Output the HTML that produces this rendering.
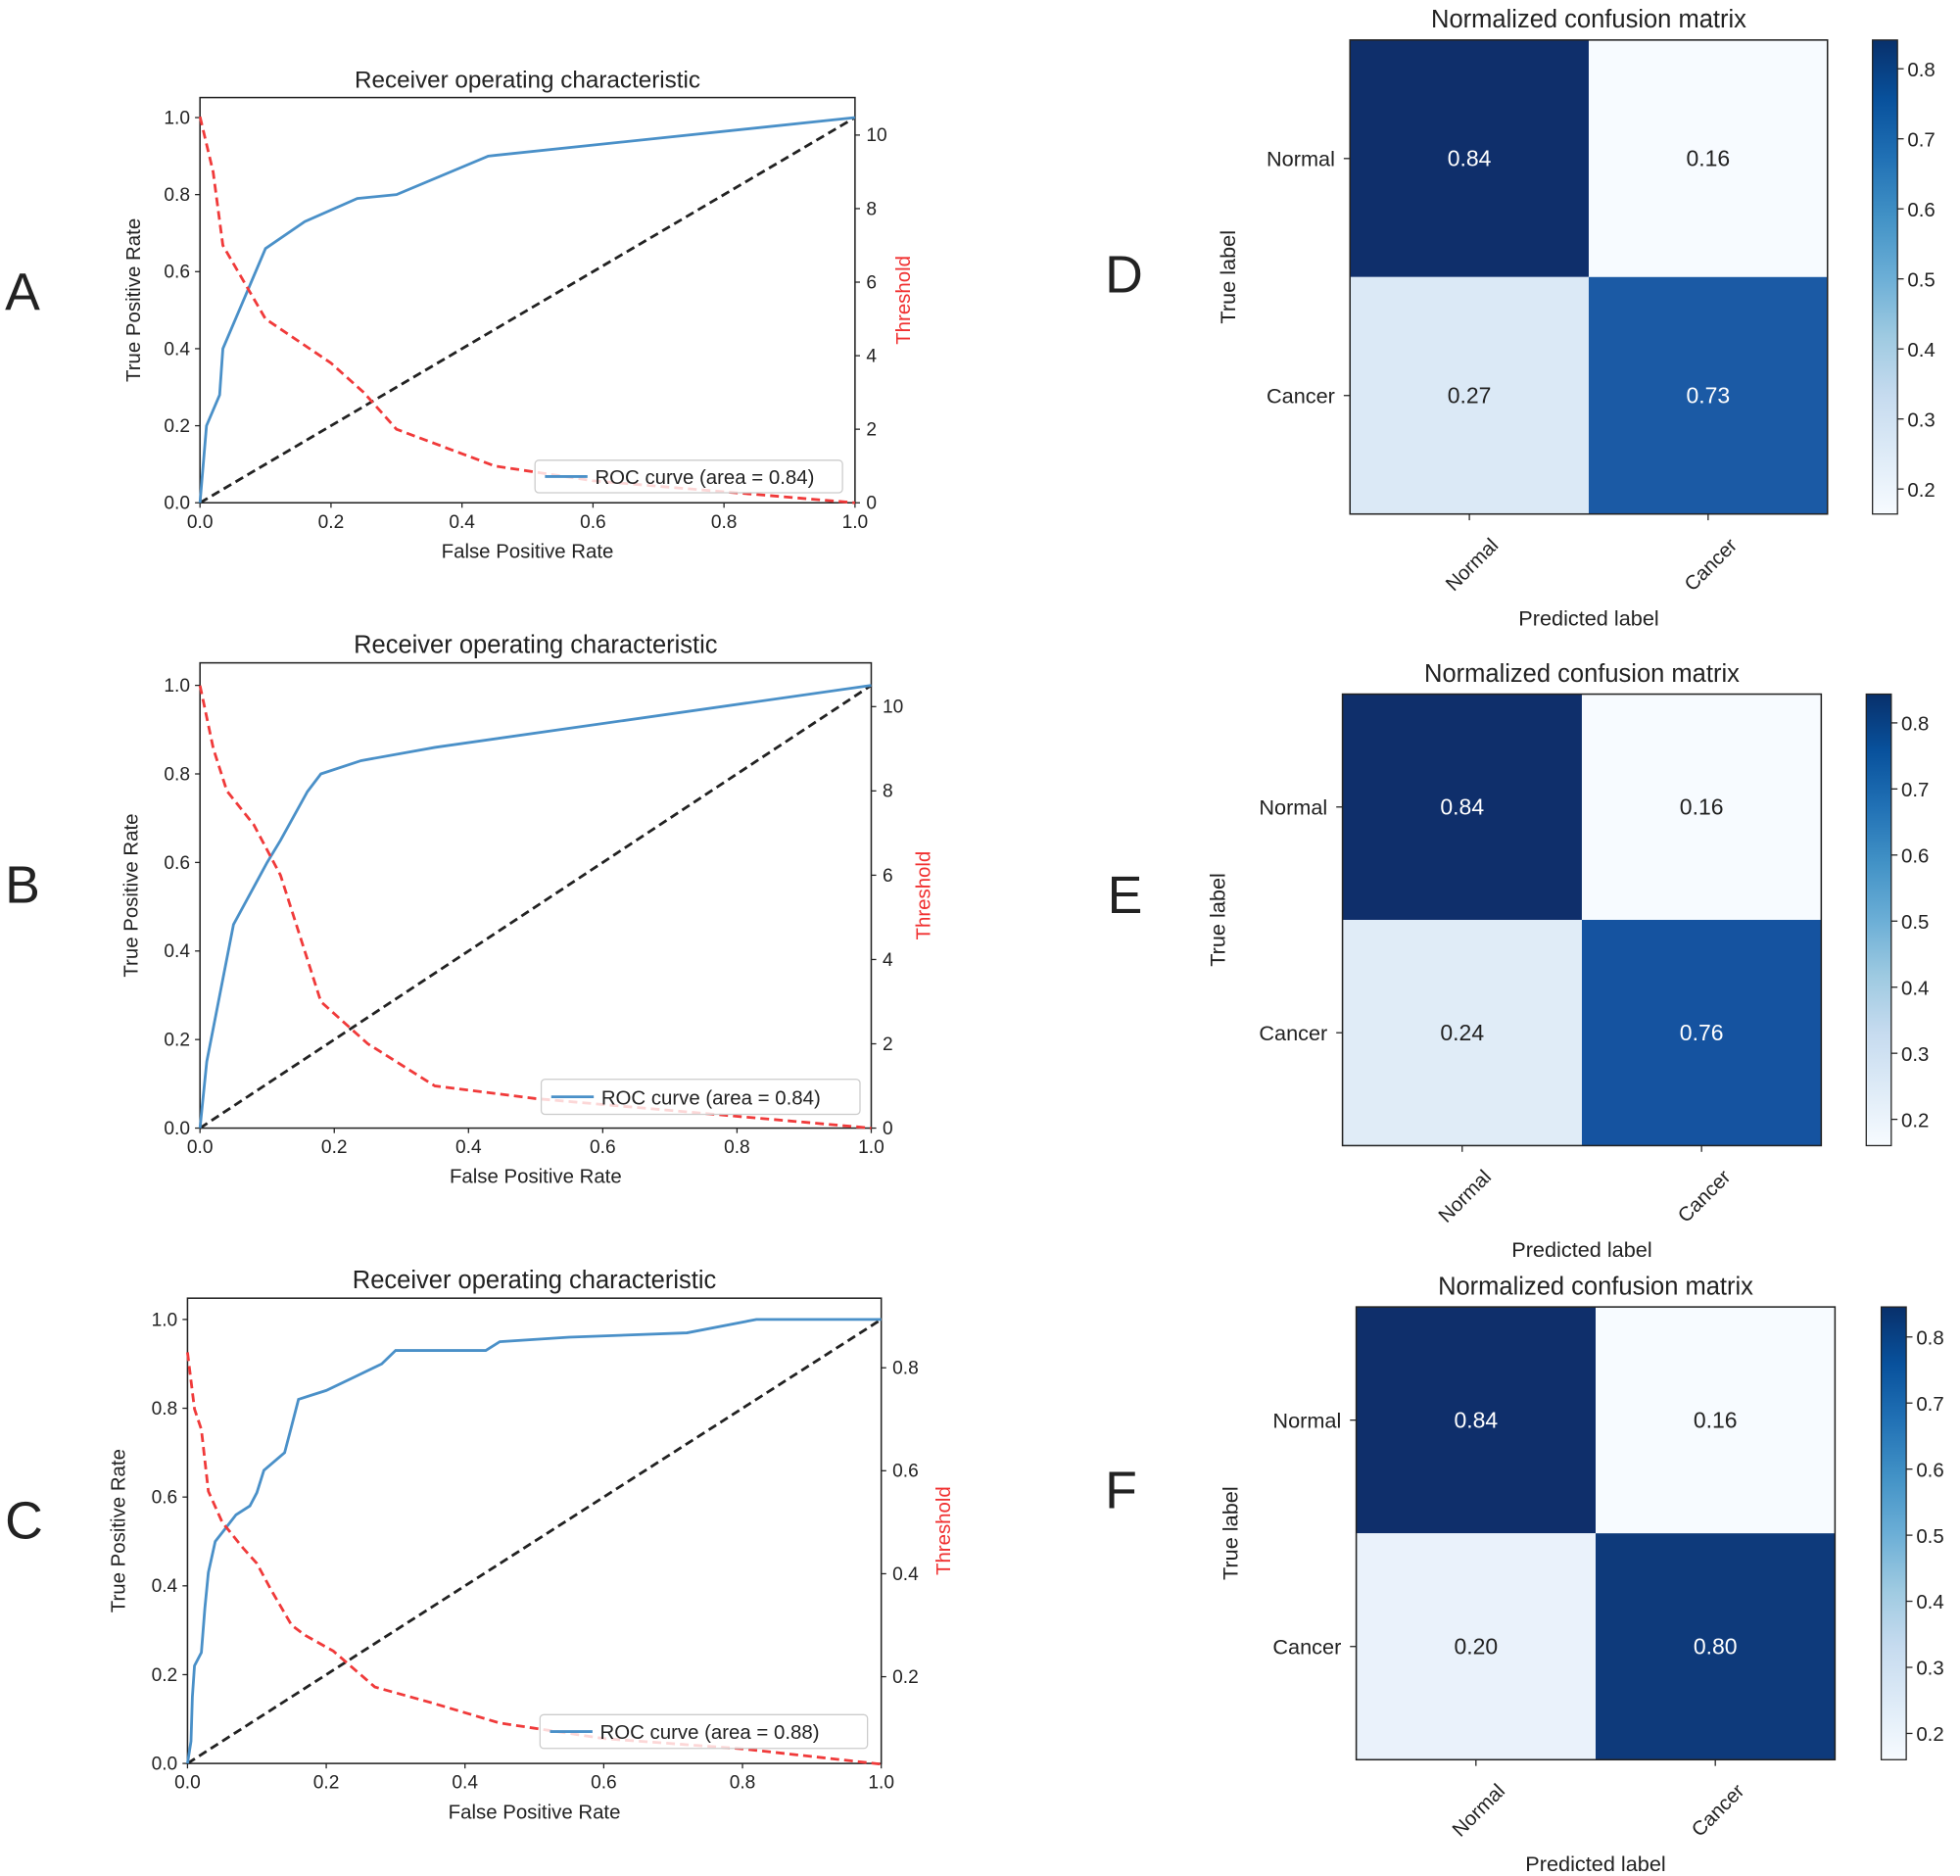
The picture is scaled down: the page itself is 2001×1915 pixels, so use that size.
<!DOCTYPE html>
<html><head><meta charset="utf-8"><style>
html,body{margin:0;padding:0;background:#fff;}
svg{display:block;}
text{font-family:"Liberation Sans","DejaVu Sans",sans-serif;fill:#222;}
</style></head><body>
<svg id="s" width="2001" height="1915" viewBox="0 0 1568 1500" preserveAspectRatio="none" xmlns="http://www.w3.org/2000/svg">
<defs>
<linearGradient id="blues" x1="0" y1="1" x2="0" y2="0">
<stop offset="0" stop-color="#f7fbff"/><stop offset="0.125" stop-color="#deebf7"/>
<stop offset="0.25" stop-color="#c6dbef"/><stop offset="0.375" stop-color="#9ecae1"/>
<stop offset="0.5" stop-color="#6baed6"/><stop offset="0.625" stop-color="#4292c6"/>
<stop offset="0.75" stop-color="#2171b5"/><stop offset="0.875" stop-color="#08519c"/>
<stop offset="1" stop-color="#08306b"/></linearGradient>
</defs>
<g id="g"></g>
<g font-size="42">
<text x="4" y="248">A</text><text x="4" y="722">B</text><text x="4" y="1230">C</text>
<text x="884" y="234">D</text><text x="886" y="730">E</text><text x="884" y="1206">F</text>
</g>
</svg>
<script>
var G=document.getElementById('g'),h='';
function T(x,y,s,fs,a,extra,fill){h+='<text x="'+x+'" y="'+y+'" font-size="'+fs+'" text-anchor="'+(a||'middle')+'"'+(extra||'')+(fill?' style="fill:'+fill+'"':'')+'>'+s+'</text>';}
function L(x1,y1,x2,y2,c,w,da){h+='<line x1="'+x1+'" y1="'+y1+'" x2="'+x2+'" y2="'+y2+'" stroke="'+(c||'#222')+'" stroke-width="'+(w||1)+'"'+(da?' stroke-dasharray="'+da+'"':'')+'/>';}
function roc(p){
 var X=function(v){return p.x0+(p.x1-p.x0)*v};
 var Y=function(v){return p.y0-(p.y0-p.y1)*v};
 var R=function(v){return p.r0-p.rs*v};
 h+='<rect x="'+p.bx0+'" y="'+p.by0+'" width="'+(p.bx1-p.bx0)+'" height="'+(p.by1-p.by0)+'" fill="none" stroke="#222" stroke-width="1.2"/>';
 T((p.bx0+p.bx1)/2,p.by0-8,'Receiver operating characteristic',p.tf);
 for(var i=0;i<=5;i++){var v=i/5,xx=X(v),yy=Y(v);
  L(xx,p.by1,xx,p.by1+4);T(xx,p.by1+20,v.toFixed(1),15);
  L(p.bx0-4,yy,p.bx0,yy);T(p.bx0-8,yy+5,v.toFixed(1),15,'end');}
 p.rt.forEach(function(t){var yy=R(t);L(p.bx1,yy,p.bx1+4,yy);T(p.bx1+9,yy+5,p.rf(t),15,'start');});
 T((p.bx0+p.bx1)/2,p.by1+44,'False Positive Rate',16);
 T(0,0,'True Positive Rate',16,'middle',' transform="translate('+p.ylx+','+(p.by0+p.by1)/2+') rotate(-90)"');
 T(0,0,'Threshold',16,'middle',' transform="translate('+p.rlx+','+(p.rly)+') rotate(-90)"','#f03030');
 L(X(0),Y(0),X(1),Y(1),'#222',2.2,'7,4');
 var d=p.roc.map(function(q){return X(q[0]).toFixed(1)+','+Y(q[1]).toFixed(1)}).join(' ');
 h+='<polyline points="'+d+'" fill="none" stroke="#4a90c8" stroke-width="2.2"/>';
 var e=p.th.map(function(q){return X(q[0]).toFixed(1)+','+R(q[1]).toFixed(1)}).join(' ');
 h+='<polyline points="'+e+'" fill="none" stroke="#f03a3a" stroke-width="2.2" stroke-dasharray="7,4"/>';
 var g=p.lg;h+='<rect x="'+g[0]+'" y="'+g[1]+'" width="'+(g[2]-g[0])+'" height="'+(g[3]-g[1])+'" rx="3" fill="rgba(255,255,255,0.8)" stroke="#ccc"/>';
 var my=(g[1]+g[3])/2;L(g[0]+8,my,g[0]+42,my,'#4a90c8',2.2);T(g[0]+48,my+6,p.lt,16,'start');
}
roc({bx0:160,bx1:684,by0:78,by1:402,x0:160,x1:684,y0:402,y1:94,r0:402,rs:29.4,tf:19,
 rt:[0,2,4,6,8,10],rf:function(t){return t},ylx:112,rlx:728,rly:240,lg:[428,368,674,394],lt:'ROC curve (area = 0.84)',
 roc:[[0,0],[0.01,0.2],[0.03,0.28],[0.035,0.4],[0.1,0.66],[0.16,0.73],[0.24,0.79],[0.3,0.8],[0.44,0.9],[1,1]],
 th:[[0,10.5],[0.02,9],[0.035,7],[0.1,5],[0.2,3.8],[0.25,3],[0.3,2],[0.45,1],[0.6,0.6],[1,0]]});
roc({bx0:160,bx1:697,by0:530,by1:902,x0:160,x1:697,y0:902,y1:548,r0:902,rs:33.7,tf:20,
 rt:[0,2,4,6,8,10],rf:function(t){return t},ylx:110,rlx:744,rly:716,lg:[433,863,688,891],lt:'ROC curve (area = 0.84)',
 roc:[[0,0],[0.01,0.15],[0.05,0.46],[0.1,0.6],[0.12,0.65],[0.16,0.76],[0.18,0.8],[0.24,0.83],[0.35,0.86],[1,1]],
 th:[[0,10.5],[0.02,9],[0.04,8],[0.08,7.2],[0.12,6],[0.15,4.5],[0.18,3],[0.25,2],[0.35,1],[0.5,0.7],[1,0]]});
roc({bx0:150,bx1:705,by0:1038,by1:1410,x0:150,x1:705,y0:1410,y1:1055,r0:1423,rs:411.7,tf:20,
 rt:[0.2,0.4,0.6,0.8],rf:function(t){return t.toFixed(1)},ylx:100,rlx:760,rly:1224,lg:[432,1371,694,1398],lt:'ROC curve (area = 0.88)',
 roc:[[0,0],[0.005,0.05],[0.007,0.15],[0.01,0.22],[0.02,0.25],[0.025,0.35],[0.03,0.43],[0.04,0.5],[0.05,0.52],[0.07,0.56],[0.09,0.58],[0.1,0.61],[0.11,0.66],[0.14,0.7],[0.15,0.76],[0.16,0.82],[0.18,0.83],[0.2,0.84],[0.24,0.87],[0.28,0.9],[0.3,0.93],[0.43,0.93],[0.45,0.95],[0.55,0.96],[0.72,0.97],[0.82,1],[1,1]],
 th:[[0,0.83],[0.01,0.72],[0.02,0.68],[0.03,0.56],[0.05,0.5],[0.08,0.45],[0.1,0.42],[0.12,0.37],[0.15,0.3],[0.17,0.28],[0.21,0.25],[0.27,0.18],[0.35,0.15],[0.45,0.11],[0.6,0.08],[0.8,0.06],[1,0.03]]});
function cm(p){
 var cw=(p.x1-p.x0)/2,ch=(p.y1-p.y0)/2;
 p.v.forEach(function(v,i){var c=i%2,r=Math.floor(i/2);var x=p.x0+c*cw,y=p.y0+r*ch;
  h+='<rect x="'+x+'" y="'+y+'" width="'+cw+'" height="'+ch+'" fill="'+p.c[i]+'"/>';
  T(x+cw/2,y+ch/2+6,v,18,'middle','',p.dark[i]?'#ffffff':'#222');});
 h+='<rect x="'+p.x0+'" y="'+p.y0+'" width="'+(p.x1-p.x0)+'" height="'+(p.y1-p.y0)+'" fill="none" stroke="#222" stroke-width="1.2"/>';
 T((p.x0+p.x1)/2,p.y0-10,'Normalized confusion matrix',20);
 ['Normal','Cancer'].forEach(function(s,i){var yy=p.y0+ch*(i+0.5);L(p.x0-5,yy,p.x0,yy);T(p.x0-12,yy+6,s,17,'end');
  var xx=p.x0+cw*(i+0.5);L(xx,p.y1,xx,p.y1+5);
  T(0,0,s,16,'end',' transform="translate('+(xx+24)+','+(p.y1+26)+') rotate(-45)"');});
 T((p.x0+p.x1)/2,p.y1+89,'Predicted label',17);
 T(0,0,'True label',17,'middle',' transform="translate('+p.tlx+','+(p.y0+p.y1)/2+') rotate(-90)"');
 h+='<rect x="'+p.cb+'" y="'+p.y0+'" width="20" height="'+(p.y1-p.y0)+'" fill="url(#blues)" stroke="#222" stroke-width="1"/>';
 for(var k=2;k<=8;k++){var yy=p.t2+(p.t8-p.t2)*(k-2)/6;L(p.cb+20,yy,p.cb+25,yy);T(p.cb+28,yy+6,'0.'+k,16,'start');}
}
cm({x0:1080,x1:1462,y0:32,y1:411,v:['0.84','0.16','0.27','0.73'],c:['#0f2f6b','#f7fbff','#dbe9f6','#1b5aa5'],dark:[1,0,0,1],tlx:988,cb:1498,t2:391,t8:55});
cm({x0:1074,x1:1457,y0:555,y1:916,v:['0.84','0.16','0.24','0.76'],c:['#0f2f6b','#f7fbff','#e0ecf7','#1553a0'],dark:[1,0,0,1],tlx:980,cb:1493,t2:895,t8:578});
cm({x0:1085,x1:1468,y0:1045,y1:1407,v:['0.84','0.16','0.20','0.80'],c:['#0f2f6b','#f7fbff','#eaf2fb','#0e3a7b'],dark:[1,0,0,1],tlx:990,cb:1505,t2:1386,t8:1069});
G.innerHTML=h;
</script>
</body></html>
